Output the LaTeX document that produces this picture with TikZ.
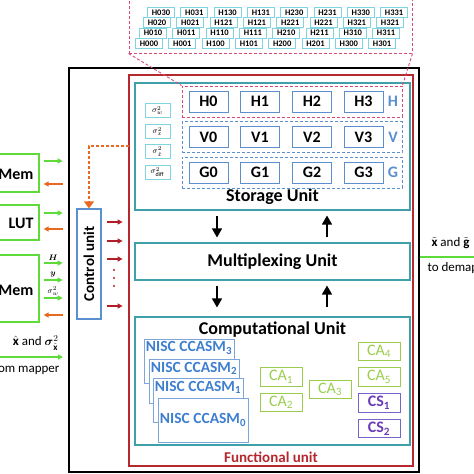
\documentclass[tikz,border=0pt]{standalone}
\usepackage{fontspec}
\setmainfont{Carlito}
\usepackage{amsmath}
\usepackage{tikz}
\usetikzlibrary{shapes,arrows,arrows.meta,positioning,fit,backgrounds}
\usepackage{xcolor}
\definecolor{tealbox}{HTML}{3FA0AA}
\definecolor{regblue}{HTML}{5B8FD0}
\definecolor{nisctxt}{HTML}{3E7FD0}
\definecolor{cyanlt}{HTML}{7ED4E0}
\definecolor{pinkd}{HTML}{D64A7A}
\definecolor{funcred}{HTML}{B5282E}
\definecolor{memgreen}{HTML}{5EDB3A}
\definecolor{limeg}{HTML}{9ACD4E}
\definecolor{purpbox}{HTML}{7A62CC}
\definecolor{purptxt}{HTML}{6A3DB8}
\definecolor{orng}{HTML}{E86A20}
\definecolor{ctlred}{HTML}{B01E28}

\begin{document}
\begin{tikzpicture}[x=1pt,y=-1pt]
      \tikzstyle{unit} = [draw=tealbox, line width=1.1pt, minimum width=275pt, inner sep=0pt]
      \tikzstyle{unittext} = [font=\fontsize{18}{20}\selectfont\bfseries]
      \tikzstyle{reg} = [draw=regblue, line width=1pt, fill=white, minimum width=39pt, minimum height=21pt, inner sep=0pt, font=\fontsize{16}{18}\selectfont\bfseries]
      \tikzstyle{grp} = [line width=1pt, dash pattern=on 3pt off 2pt, minimum width=220pt, minimum height=31pt]
      \tikzstyle{grplabel} = [text=regblue, font=\fontsize{16}{18}\selectfont\bfseries]
      \tikzstyle{hcell} = [draw=cyanlt, line width=0.9pt, fill=white, minimum width=27pt, minimum height=10pt, inner sep=0pt, font=\fontsize{8.5}{9}\selectfont\bfseries]
      \tikzstyle{sig} = [draw=cyanlt, line width=0.9pt, minimum width=25pt, minimum height=14pt, inner sep=0pt, font=\fontsize{8}{9}\selectfont]
      \tikzstyle{nisc} = [draw=regblue!80, line width=1pt, fill=white, minimum width=90pt, minimum height=44pt, inner sep=0pt]
      \tikzstyle{nisctext} = [text=nisctxt, font=\fontsize{15.5}{17}\selectfont\bfseries]
      \tikzstyle{cabox} = [draw=limeg, line width=1pt, text=limeg, minimum width=42pt, minimum height=18.5pt, inner sep=0pt, font=\fontsize{16}{17}\selectfont]
      \tikzstyle{csbox} = [draw=purpbox, line width=1pt, text=purptxt, minimum width=42pt, minimum height=18.5pt, inner sep=0pt, font=\fontsize{16}{17}\selectfont\bfseries]
      \tikzstyle{membox} = [draw=memgreen, line width=1.3pt, minimum width=49pt, inner sep=0pt]
      \tikzstyle{memtext} = [anchor=east, font=\fontsize{16}{18}\selectfont\bfseries]
      \tikzstyle{flow} = [line width=1.2pt, -{Triangle[width=10pt,length=9pt]}]
      \tikzstyle{gin} = [memgreen, line width=1.1pt, -{Triangle[width=5pt,length=5pt]}]
      \tikzstyle{oout} = [orng, line width=1.1pt, -{Triangle[width=5pt,length=5pt]}]
      \tikzstyle{ctl} = [ctlred, line width=1.1pt, -{Triangle[width=5pt,length=5pt]}]
      \tikzstyle{sidetext} = [font=\fontsize{13}{15}\selectfont]

      \useasboundingbox (0,0) rectangle (474,474);

      % system and functional unit
      \node[draw, line width=1.3pt, minimum width=350pt, minimum height=404pt] (sys) at (244,270) {};
      \node[draw=funcred, line width=1.2pt, minimum width=284pt, minimum height=391pt] (func) at (271,270.5) {};
      \node[text=funcred, font=\fontsize{15}{17}\selectfont\bfseries] (functxt) at (271,457) {Functional unit};

      % storage unit
      \node[unit, minimum height=127pt] (storage) at (272.5,146.5) {};
      \node[unittext] (storagetxt) at (272.5,197) {Storage Unit};
      \foreach \n/\y/\s in {1/110.5/w, 2/131.5/x, 3/151.5/\hat{x}, 4/172/\mathrm{diff}}
        \node[sig] (sig\n) at (157.5,\y) {$\sigma^2_{\s}$};
      \foreach \r/\y/\c in {H/101.5/pinkd, V/137/regblue, G/172.5/regblue} {
        \node[grp, draw=\c] (grp\r) at (292,\y) {};
        \foreach \i/\x in {0/208.5, 1/260, 2/312, 3/363.5}
          \node[reg] (\r\i) at (\x,\y) {\r\i};
        \node[grplabel] (lab\r) at (393,\y) {\r};
      }

      % zoom on H registers
      \node[draw=pinkd, line width=1pt, dash pattern=on 3pt off 2pt, minimum width=283pt, minimum height=58pt] (hzoom) at (270.5,24) {};
      \draw[pinkd, line width=0.9pt, dash pattern=on 3pt off 2pt] (hzoom.south west) -- (grpH.north west);
      \draw[pinkd, line width=0.9pt, dash pattern=on 3pt off 2pt] (hzoom.south east) -- (grpH.north east);
      \foreach \r/\names in {3/{H030,H031,H130,H131,H230,H231,H330,H331},
                             2/{H020,H021,H121,H121,H221,H221,H321,H321},
                             1/{H010,H011,H110,H111,H210,H211,H310,H311},
                             0/{H000,H001,H100,H101,H200,H201,H300,H301}}
        \foreach \t [count=\c from 0] in \names
          \node[hcell] (h\r\c) at (149+33.3*\c+4*\r, 43.5-10.3*\r) {\t};

      % multiplexing and computational units
      \node[unit, minimum height=37pt, font=\fontsize{18}{20}\selectfont\bfseries] (mux) at (272.5,261.5) {Multiplexing Unit};
      \node[unit, minimum height=128pt] (comp) at (272.5,381) {};
      \node[unittext] (comptxt) at (272.5,330) {Computational Unit};

      \draw[flow, shorten <=5pt, shorten >=5pt] ([xshift=-55.5pt]storage.south) -- ([xshift=-55.5pt]mux.north);
      \draw[flow, shorten <=5pt, shorten >=5pt] ([xshift=54.5pt]mux.north) -- ([xshift=54.5pt]storage.south);
      \draw[flow, shorten <=5pt, shorten >=9pt] ([xshift=-55.5pt]mux.south) -- ([xshift=-55.5pt]comp.north);
      \draw[flow, shorten <=9pt, shorten >=5pt] ([xshift=54.5pt]comp.north) -- ([xshift=54.5pt]mux.south);

      \foreach \k/\x/\y in {3/189/361, 2/194/381, 1/198/400} {
        \node[nisc] (nisc\k) at (\x,\y) {};
        \node[nisctext] (nisclab\k) at (\x,\y-13) {NISC CCASM\textsubscript{\k}};
      }
      \node[nisc, nisctext] (nisc0) at (203,420) {NISC CCASM\textsubscript{0}};

      \node[cabox] (ca1) at (281,377) {CA\textsubscript{1}};
      \node[cabox] (ca2) at (281,402.5) {CA\textsubscript{2}};
      \node[cabox] (ca3) at (330,389.5) {CA\textsubscript{3}};
      \node[cabox] (ca4) at (379,351.5) {CA\textsubscript{4}};
      \node[cabox] (ca5) at (379,377) {CA\textsubscript{5}};
      \node[csbox] (cs1) at (379,403) {CS\textsubscript{1}};
      \node[csbox] (cs2) at (379,428.5) {CS\textsubscript{2}};

      % control unit
      \node[draw=regblue, line width=1.2pt, minimum width=24pt, minimum height=110pt, inner sep=0pt] (ctrl) at (89,264) {};
      \node[rotate=90, font=\fontsize{15}{17}\selectfont\bfseries] (ctrltxt) at (ctrl) {Control unit};
      \coordinate (fb) at (129,146);
      \draw[orng, line width=1.3pt, dash pattern=on 3pt off 2pt, -{Triangle[width=10pt,length=7pt]}] (fb) -| (ctrl.north);
      \foreach \y in {222,241,259,306}
        \draw[ctl] ([xshift=5pt]ctrl.east |- 0,\y) -- ++(16,0);
      \foreach \y in {270,278,286}
        \fill[ctlred] (114,\y) circle (1.1pt);

      % memories on the left
      \node[membox, minimum height=38pt] (memA) at (14.5,173) {};
      \node[memtext] (memAtxt) at (37,174) {Mem};
      \node[membox, minimum height=35pt] (lut) at (14.5,222.5) {};
      \node[memtext] (luttxt) at (37,223) {LUT};
      \node[membox, minimum height=67pt] (memB) at (14.5,288.5) {};
      \node[memtext] (memBtxt) at (37,290) {Mem};

      \draw[gin] ([xshift=4pt]memA.east |- 0,161) -- ++(19,0);
      \draw[oout] ([xshift=23pt]memA.east |- 0,184) -- ++(-19,0);
      \draw[gin] ([xshift=4pt]lut.east |- 0,213) -- ++(19,0);
      \draw[oout] ([xshift=23pt]lut.east |- 0,229) -- ++(-19,0);
      \draw[gin] ([xshift=4pt]memB.east |- 0,263) -- ++(19,0) node[midway, above=-1pt, black, font=\fontsize{8}{9}\selectfont] {$\boldsymbol{H}$};
      \draw[gin] ([xshift=4pt]memB.east |- 0,280) -- ++(19,0) node[midway, above=-1pt, black, font=\fontsize{8}{9}\selectfont] {$\boldsymbol{y}$};
      \draw[gin] ([xshift=4pt]memB.east |- 0,298) -- ++(19,0) node[midway, above=-1pt, black, font=\fontsize{8}{9}\selectfont] {$\sigma^2_{w}$};
      \draw[oout] ([xshift=23pt]memB.east |- 0,315) -- ++(-19,0);

      \node[sidetext, anchor=east] (inlab) at (62,343) {$\hat{\mathbf{x}}$ and $\boldsymbol{\sigma}^2_{\hat{\mathbf{x}}}$};
      \coordinate (mapper) at (-10,357);
      \draw[gin] (mapper) -- (63,357);
      \node[sidetext, anchor=east] (inlab2) at (63,369) {from mapper};

      % output to demapper
      \coordinate (demap) at (490,257);
      \draw[gin] (sys.east |- demap) -- (demap);
      \node[sidetext, anchor=west] (outlab) at (428,243) {$\tilde{\mathbf{x}}$ and $\tilde{\mathbf{g}}$};
      \node[sidetext, anchor=west] (outlab2) at (424,268) {to demapper};
    \end{tikzpicture}
\end{document}
